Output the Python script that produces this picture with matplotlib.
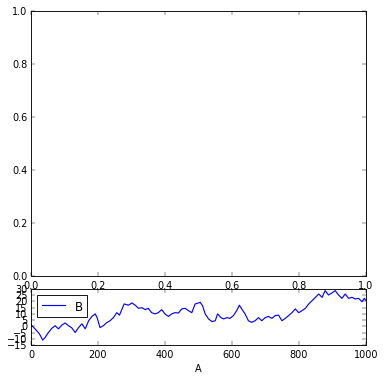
"""
Empty top panel with a random-walk series "B" in a short panel below.
"""

import matplotlib

matplotlib.use("Agg")
import matplotlib.pyplot as plt

# values
walk_x = [
    0, 12, 25, 35, 42, 52, 62, 72, 82, 92, 102, 112, 122, 132, 142, 152,
    162, 172, 182, 192, 198, 206, 216, 226, 236, 246, 256, 264, 271, 278,
    291, 301, 311, 321, 331, 341, 350, 360, 370, 380, 390, 400, 410, 420,
    430, 440, 450, 460, 470, 480, 490, 500, 505, 512, 520, 530, 540, 550,
    557, 567, 575, 585, 594, 604, 614, 622, 629, 639, 649, 659, 669, 679,
    689, 699, 709, 719, 729, 739, 749, 759, 769, 779, 789, 799, 809, 819,
    829, 839, 849, 859, 869, 878, 888, 898, 908, 918, 928, 938, 948, 958,
    968, 978, 988, 995, 999,
]
walk_b = [
    1.3, -2.0, -6.0, -11.0, -9.0, -5.0, -1.6, 0.5, -2.0, 1.0, 2.7, 0.5,
    -1.3, -5.0, -1.0, 2.0, -2.0, 4.5, 8.0, 10.0, 6.4, -1.0, 0.5, 3.0, 4.5,
    7.0, 11.0, 9.0, 13.4, 18.0, 17.0, 18.8, 17.0, 14.5, 15.0, 13.4, 14.5,
    11.0, 10.0, 11.0, 13.4, 10.0, 8.0, 10.0, 11.0, 10.7, 14.0, 14.5, 12.6,
    11.0, 18.0, 18.8, 19.3, 16.6, 10.0, 6.0, 3.8, 4.5, 10.0, 7.0, 6.0, 7.0,
    6.4, 8.6, 12.6, 17.0, 14.0, 10.0, 4.5, 3.2, 4.5, 7.0, 4.5, 7.0, 8.0,
    6.4, 8.6, 9.0, 4.5, 6.4, 8.6, 11.0, 14.0, 11.0, 12.6, 14.5, 18.0, 20.6,
    23.3, 26.0, 23.3, 28.7, 25.2, 26.8, 28.7, 25.2, 22.5, 26.0, 22.5, 23.3,
    22.0, 22.5, 19.8, 22.5, 21.0,
]
top_ticks = [0.0, 0.2, 0.4, 0.6, 0.8, 1.0]
walk_yticks = [-15, -10, -5, 0, 5, 10, 15, 20, 25, 30]
walk_xticks = [0, 200, 400, 600, 800, 1000]

plt.style.use("classic")
plt.rcParams["font.size"] = 11
plt.rcParams["font.family"] = ["DejaVu Sans"]

fig = plt.figure(figsize=(6, 5.984), dpi=64, facecolor="white")

# top panel, left empty
ax_top = fig.add_axes([0.0807, 0.2768, 0.8724, 0.6919])
ax_top.set_xlim(0, 1)
ax_top.set_ylim(0, 1)
ax_top.set_xticks(top_ticks)
ax_top.set_yticks(top_ticks)

# bottom panel with the series
ax_walk = fig.add_axes([0.0807, 0.0966, 0.8724, 0.1462])
ax_walk.plot(walk_x, walk_b, color="b", linewidth=1.3, label="B")
ax_walk.set_xlim(0, 1000)
ax_walk.set_ylim(-15, 30)
ax_walk.set_xticks(walk_xticks)
ax_walk.set_yticks(walk_yticks)
ax_walk.set_xlabel("A")
ax_walk.legend(loc="upper left", numpoints=1)

plt.savefig("out.png", dpi=64, facecolor="white")
plt.close()
